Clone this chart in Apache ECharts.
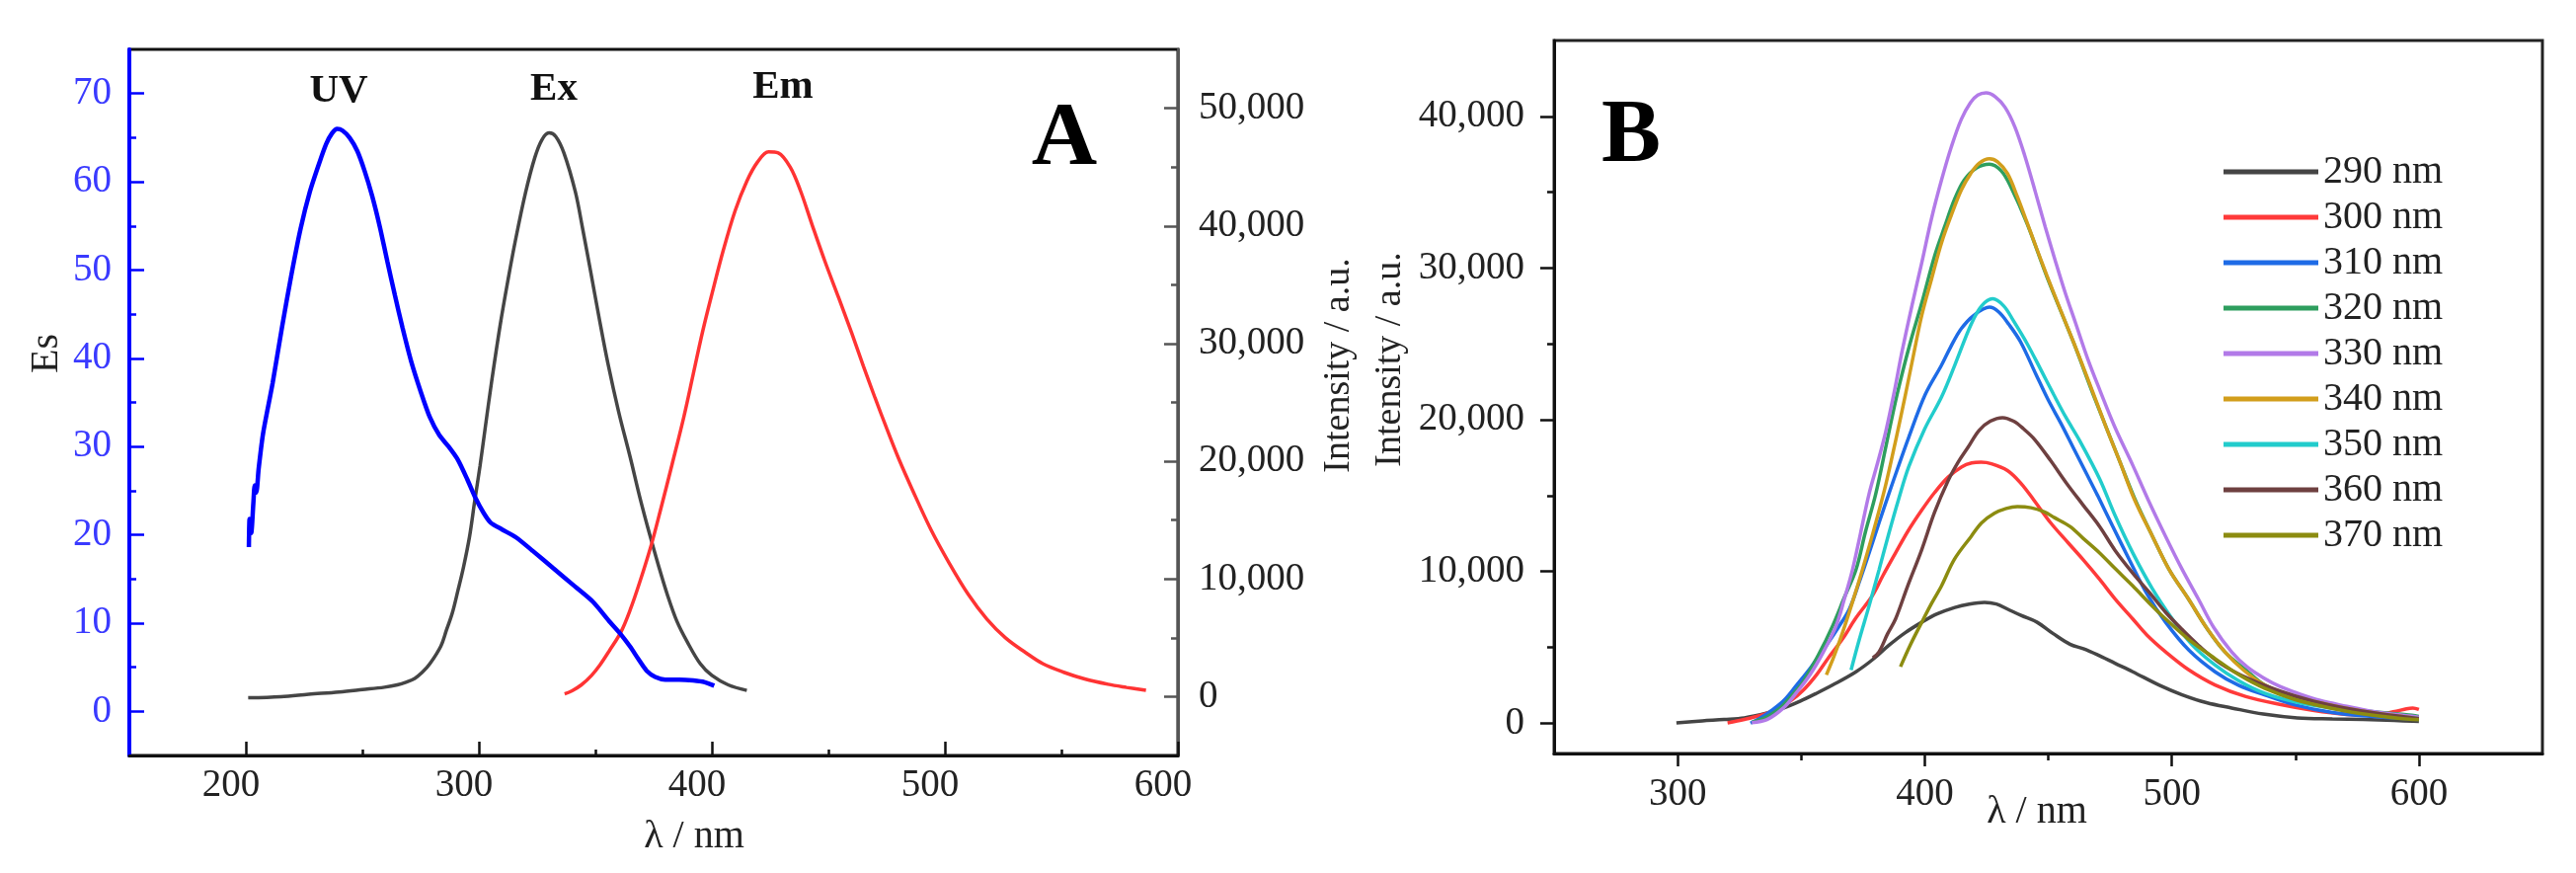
<!DOCTYPE html>
<html>
<head>
<meta charset="utf-8">
<script src="https://cdn.jsdelivr.net/npm/echarts@6/dist/echarts.min.js"></script>
<style>
html,body{margin:0;padding:0;background:#fff;}
#chart{width:2609px;height:884px;}
</style>
</head>
<body>
<div id="chart"></div>
<script>
// ---------- Panel A data ----------
const uvCurve = [[201.3,18.6],[201.6,21.8],[202.3,20.2],[203.2,23.5],[203.8,25.6],[204.5,24.8],[205.5,27.5],[207.4,31.5],[211.5,37.2],[215.5,43.5],[219.5,49.4],[223.5,54.7],[227.5,58.9],[231.6,62.2],[234.5,64.3],[237,65.5],[239.2,66],[241.5,65.8],[244.5,65.0],[247.8,63.5],[251,61.2],[254.2,58.4],[257.5,54.9],[260.7,51],[264,47.1],[267.2,43.5],[271,39.6],[275.2,36.1],[279,33.3],[283,31.3],[287,30],[291,28.5],[295,26.3],[298.5,24.2],[302,22.5],[305,21.4],[310,20.6],[316,19.7],[323,18.2],[332,16.2],[341,14.2],[349,12.4],[356.3,10.1],[361,8.7],[365,7.3],[368.5,5.9],[372,4.6],[375.7,3.9],[380,3.6],[386,3.6],[392,3.5],[397,3.3],[401,2.9]];
const exCurve = [[201,-100],[215,0],[227,200],[240,400],[250,600],[259.5,800],[265,1000],[269,1250],[272.5,1550],[275.7,2060],[279,2800],[283.7,4300],[286,5600],[288.6,7100],[291,9000],[293.4,11000],[296,13600],[298.2,16600],[300.5,19600],[302.7,22800],[305.5,26800],[309.2,31640],[312.5,35400],[315.6,38680],[320,42800],[324,45800],[327,47300],[330.1,47900],[333,47600],[336.5,46200],[341.4,42900],[344.5,39800],[347.9,36200],[351.5,32300],[355.4,28300],[360,24200],[365,20300],[369,17000],[373,14000],[377,11200],[381,8600],[385,6400],[389.3,4700],[395,2800],[400,1800],[407,1000],[415,530]];
const emCurve = [[336.8,240],[340,500],[344,1000],[348.3,1790],[352,2700],[356,3900],[361,5500],[365,7400],[369,9700],[374,12900],[378,15900],[383,19800],[388,23800],[392,27400],[396,31000],[400,34200],[405,38000],[410,41300],[415,43800],[419.5,45400],[424.3,46300],[428.5,46200],[433.6,45000],[438,43000],[443,40100],[448.5,37000],[454.4,33900],[460,30900],[465,28100],[470,25400],[475,22800],[480,20300],[486,17600],[494,14200],[502,11300],[510,8700],[518,6600],[526,5000],[534.6,3750],[542,2800],[551,2070],[560,1500],[570,1050],[578,780],[586.3,530]];

// ---------- Panel B data (excitation wavelength series) ----------
const exc290 = [[299.5,20],[310,150],[318.8,240],[327,350],[336.2,670],[343,1000],[349.5,1440],[356,1950],[362.8,2520],[372.2,3390],[379,4200],[385.5,5130],[392,5950],[398.8,6650],[405,7200],[412.2,7630],[418,7850],[424.2,7960],[429,7850],[433.5,7520],[439,7100],[445.5,6650],[452,5900],[458.8,5200],[464.2,4910],[470,4500],[477,3950],[484.2,3390],[495,2500],[504.2,1870],[514,1350],[524.2,1000],[537,600],[550.8,350],[565,280],[577.5,240],[590,180],[597.5,130],[600,120]];
const exc300 = [[320.2,20],[327,250],[334.8,570],[340,950],[345.5,1440],[351,2200],[356.2,3180],[361,4300],[366.8,5560],[372,6900],[378.8,8400],[383,9700],[388.2,11220],[393,12600],[398.8,14040],[404,15200],[409.5,16220],[415,16900],[419,17150],[422.8,17200],[427,17100],[433.5,16650],[439,15800],[444.2,14700],[451,13200],[458,11900],[464,10800],[470.8,9480],[477,8200],[484.2,6870],[490,5800],[497.5,4700],[507,3500],[517.5,2520],[530,1750],[544.2,1220],[557,850],[570.8,570],[580,520],[590.8,780],[595,950],[597.5,1000],[600,900]];
const exc310 = [[329.5,0],[333,300],[337.5,780],[343,1500],[348.2,2520],[354,3700],[360.2,5130],[365,6300],[369.5,7520],[373.5,9300],[377.5,11220],[381.5,13200],[385.5,15130],[389.5,17000],[393.5,18830],[400.2,21660],[406.8,23600],[410.5,24800],[414.8,26010],[420,26900],[426.2,27420],[430,27100],[434,26300],[438.8,25130],[445,23000],[450,21300],[455,19800],[460,18200],[465,16600],[470,15000],[476,13000],[482.8,10780],[490,8500],[497.5,6650],[507,4800],[517.5,3390],[527,2500],[537.5,1870],[550,1200],[565,700],[580,450],[590,350],[600,250]];
const exc320 = [[330,50],[336,400],[341.5,1000],[346,1800],[350.8,2740],[357,4500],[362.8,6440],[367.5,8300],[372.2,10130],[376,12600],[380.2,15130],[384.5,18400],[388.8,21660],[394,25000],[398.8,27700],[404,30800],[408,32700],[412,34500],[416,35800],[421,36600],[426.2,36850],[431,36400],[435,35300],[441.5,32900],[449.5,29400],[460.2,25100],[468.2,21660],[478.8,17310],[485,14800],[492.2,12310],[499,10100],[506.8,8170],[514,6300],[521.5,4700],[530,3500],[537.5,2520],[548,1800],[557.5,1440],[570,1000],[585,700],[595,550],[600,450]];
const exc330 = [[330,30],[336.2,240],[342.8,1000],[348,2000],[353.5,3180],[359,4700],[364.2,6440],[367.5,8200],[370.8,10130],[374,12500],[377.5,15130],[381,17200],[384.2,19200],[387.5,21700],[390.8,24480],[394.8,27500],[398.8,30350],[402.8,33300],[406.8,35800],[410.8,38000],[414.8,39800],[418.5,40900],[421.5,41400],[424.8,41550],[428.5,41300],[432.5,40600],[436.5,39300],[440.5,37400],[444.8,35000],[448.8,32700],[452.8,30500],[456.8,28400],[461,26400],[466,24000],[471,21900],[477,19500],[484.2,17000],[490.5,14700],[497.5,12310],[504,10200],[510.8,8170],[517,6300],[524.2,4700],[530.5,3700],[537.5,2950],[544,2400],[550.8,1980],[560,1500],[570.8,1110],[580,800],[590.8,570],[600,400]];
const exc340 = [[360.2,3180],[363.5,4500],[366.8,6000],[370.8,8000],[374.8,10130],[379.5,12800],[384.2,15700],[388.2,18600],[392.2,21660],[395.5,24300],[398.8,26880],[402.8,29300],[406.8,31660],[410.8,33500],[414.8,35140],[418.5,36200],[422,36900],[426.2,37200],[429.5,37000],[433.5,36230],[437.5,34700],[441.5,32960],[445.5,31200],[449.5,29480],[454.8,27300],[460.2,25130],[466,22700],[473.5,19480],[478.8,17310],[485,14700],[492.2,12310],[499,10100],[506.8,8170],[514,6300],[521.5,4700],[529,3500],[537.5,2520],[547,1900],[557.5,1440],[570,1000],[585,600],[600,300]];
const exc350 = [[370.2,3500],[373.5,5500],[377.5,7740],[381.5,10100],[385.5,12520],[389.5,14800],[393.5,16880],[400,19400],[406.8,21500],[412.2,23610],[418.8,26300],[423,27500],[427.5,27970],[432,27500],[436,26500],[441.5,25000],[447,23300],[452.2,21660],[457,20200],[462.8,18600],[470.8,16100],[477,13700],[484.2,11220],[492,8900],[500.2,6870],[508,5200],[517.5,3830],[527,2800],[537.5,1980],[550,1400],[564.2,1000],[580,650],[590,450],[600,300]];
const exc360 = [[379,4300],[381.5,4700],[385,5900],[388.2,6870],[393,9000],[398.8,11440],[404,13900],[409.5,16000],[413.5,17200],[417.5,18180],[422,19300],[426.5,19900],[431.5,20140],[436,19900],[440,19400],[444.5,18700],[451,17300],[457.5,15790],[464,14400],[470.8,12960],[477,11400],[484.2,9890],[491,8600],[497.5,7310],[504,6200],[510.8,5130],[520,3900],[530.8,2950],[544,2100],[557.5,1440],[570,1000],[585,600],[600,300]];
const exc370 = [[390.2,3720],[394,5100],[398.8,6650],[402.8,7900],[406.8,9050],[412,10800],[418.8,12310],[423,13200],[428.2,13830],[433,14150],[437.5,14270],[443,14200],[448.2,13940],[452.5,13550],[458.8,12960],[464,12200],[470.8,11220],[477,10200],[484.2,9050],[491,7900],[497.5,6870],[507,5500],[517.5,4260],[527,3200],[537.5,2300],[550,1550],[564.2,1000],[580,550],[597.5,240],[600,230]];

const seriesNamesB = ['290 nm','300 nm','310 nm','320 nm','330 nm','340 nm','350 nm','360 nm','370 nm'];
const seriesDataB = [exc290, exc300, exc310, exc320, exc330, exc340, exc350, exc360, exc370];
const seriesColorsB = ['#454545','#ff3a3a','#1e6be6','#2e9e5e','#b27ae8','#d29e1c','#22cccc','#6e4040','#8c8c10'];

// ---------- Tick values ----------
const ticksAx = [200,300,400,500,600];
const minorAx = [250,350,450,550];
const ticksAyL = [0,10,20,30,40,50,60,70];
const minorAyL = [5,15,25,35,45,55,65];
const ticksAyR = [0,10000,20000,30000,40000,50000];
const minorAyR = [5000,15000,25000,35000,45000];
const ticksBx = [300,400,500,600];
const minorBx = [350,450,550];
const ticksBy = [0,10000,20000,30000,40000];
const minorBy = [5000,15000,25000,35000];

const FONT = "'Liberation Serif','Times New Roman',serif";
const fmtComma = v => String(v).replace(/\B(?=(\d{3})+(?!\d))/g, ',');

const chart = echarts.init(document.getElementById('chart'));

function xMain(grid, min, max, ticks, inside, tickLen, labelMargin, padding) {
  return {
    type: 'value', gridIndex: grid, min: min, max: max, position: 'bottom',
    splitLine: {show: false},
    axisLine: {onZero: false, lineStyle: {color: '#111', width: 3}},
    axisTick: {inside: inside, length: tickLen, customValues: ticks, lineStyle: {color: '#111', width: 2.5}},
    axisLabel: {customValues: ticks, margin: labelMargin, fontSize: 39, fontFamily: FONT, color: '#222', padding: padding}
  };
}
function xMinor(grid, min, max, ticks, inside, tickLen) {
  return {
    type: 'value', gridIndex: grid, min: min, max: max, position: 'bottom',
    splitLine: {show: false},
    axisLine: {show: false, onZero: false},
    axisTick: {inside: inside, length: tickLen, customValues: ticks, lineStyle: {color: '#111', width: 2.5}},
    axisLabel: {show: false}
  };
}
function yMain(grid, pos, min, max, ticks, inside, tickLen, color, lineW, labelColor, labelMargin, fmt) {
  return {
    type: 'value', gridIndex: grid, min: min, max: max, position: pos,
    splitLine: {show: false},
    axisLine: {show: true, onZero: false, lineStyle: {color: color, width: lineW}},
    axisTick: {inside: inside, length: tickLen, customValues: ticks, lineStyle: {color: color, width: 2.5}},
    axisLabel: {customValues: ticks, margin: labelMargin, fontSize: 39, fontFamily: FONT, color: labelColor, formatter: fmt}
  };
}
function yMinor(grid, pos, min, max, ticks, inside, tickLen, color) {
  return {
    type: 'value', gridIndex: grid, min: min, max: max, position: pos,
    splitLine: {show: false},
    axisLine: {show: false, onZero: false},
    axisTick: {inside: inside, length: tickLen, customValues: ticks, lineStyle: {color: color, width: 2.5}},
    axisLabel: {show: false}
  };
}

const seriesB = seriesNamesB.map((n, i) => ({
  name: n, type: 'line', xAxisIndex: 2, yAxisIndex: 4,
  data: seriesDataB[i], symbol: 'none', showSymbol: false, smooth: 0.35,
  lineStyle: {width: 3.5, color: seriesColorsB[i]}, itemStyle: {color: seriesColorsB[i]},
  z: 3 + i
}));

const option = {
  animation: false,
  backgroundColor: '#fff',
  grid: [
    {left: 131, right: 2609 - 1193, top: 50, bottom: 884 - 765, show: true, borderColor: '#111', borderWidth: 3},
    {left: 1574, right: 2609 - 2575, top: 41, bottom: 884 - 763, show: true, borderColor: '#222', borderWidth: 3}
  ],
  xAxis: [
    xMain(0, 150, 600, ticksAx, true, 14, 11, [0, 30, 0, 0]),
    xMinor(0, 150, 600, minorAx, true, 6),
    xMain(1, 250, 650, ticksBx, false, 13, 22, 0),
    xMinor(1, 250, 650, minorBx, false, 7)
  ],
  yAxis: [
    yMain(0, 'left', -5, 75, ticksAyL, true, 15, '#0000ff', 4, '#3a3aff', 18, null),
    yMinor(0, 'left', -5, 75, minorAyL, true, 7, '#0000ff'),
    yMain(0, 'right', -5000, 55000, ticksAyR, true, 14, '#555', 3, '#222', 21, fmtComma),
    yMinor(0, 'right', -5000, 55000, minorAyR, true, 7, '#555'),
    yMain(1, 'left', -2000, 45000, ticksBy, false, 14, '#111', 3, '#222', 30, fmtComma),
    yMinor(1, 'left', -2000, 45000, minorBy, false, 7, '#111')
  ],
  legend: {
    data: seriesNamesB, orient: 'vertical', left: 2247, top: 149,
    icon: 'rect', itemWidth: 96, itemHeight: 5, itemGap: 6,
    textStyle: {fontSize: 40, lineHeight: 40, fontFamily: FONT, color: '#222'}
  },
  series: [
    {name: 'UV', type: 'line', xAxisIndex: 0, yAxisIndex: 0, data: uvCurve, symbol: 'none', smooth: 0.25, lineStyle: {width: 4.5, color: '#0000ff'}, itemStyle: {color: '#0000ff'}, z: 4},
    {name: 'Ex', type: 'line', xAxisIndex: 0, yAxisIndex: 2, data: exCurve, symbol: 'none', smooth: 0.35, lineStyle: {width: 3.5, color: '#454545'}, itemStyle: {color: '#454545'}, z: 3},
    {name: 'Em', type: 'line', xAxisIndex: 0, yAxisIndex: 2, data: emCurve, symbol: 'none', smooth: 0.35, lineStyle: {width: 3.5, color: '#ff3333'}, itemStyle: {color: '#ff3333'}, z: 3}
  ].concat(seriesB),
  graphic: [
    {type: 'text', x: 343, y: 92, style: {text: 'UV', font: "bold 41px 'Liberation Serif', serif", fill: '#111', align: 'center', verticalAlign: 'middle'}},
    {type: 'text', x: 561, y: 90, style: {text: 'Ex', font: "bold 41px 'Liberation Serif', serif", fill: '#111', align: 'center', verticalAlign: 'middle'}},
    {type: 'text', x: 793, y: 88, style: {text: 'Em', font: "bold 41px 'Liberation Serif', serif", fill: '#111', align: 'center', verticalAlign: 'middle'}},
    {type: 'text', x: 1078, y: 142, style: {text: 'A', font: "bold 92px 'Liberation Serif', serif", fill: '#000', align: 'center', verticalAlign: 'middle'}},
    {type: 'text', x: 1652, y: 140, style: {text: 'B', font: "bold 90px 'Liberation Serif', serif", fill: '#000', align: 'center', verticalAlign: 'middle'}},
    {type: 'text', x: 703, y: 847, style: {text: 'λ / nm', font: "40px 'Liberation Serif', serif", fill: '#222', align: 'center', verticalAlign: 'middle'}},
    {type: 'text', x: 2063, y: 822, style: {text: 'λ / nm', font: "40px 'Liberation Serif', serif", fill: '#222', align: 'center', verticalAlign: 'middle'}},
    {type: 'text', x: 47, y: 358, rotation: Math.PI / 2, style: {text: 'Es', font: "40px 'Liberation Serif', serif", fill: '#222', align: 'center', verticalAlign: 'middle'}},
    {type: 'text', x: 1356, y: 370, rotation: Math.PI / 2, style: {text: 'Intensity / a.u.', font: "38px 'Liberation Serif', serif", fill: '#222', align: 'center', verticalAlign: 'middle'}},
    {type: 'text', x: 1408, y: 364, rotation: Math.PI / 2, style: {text: 'Intensity / a.u.', font: "38px 'Liberation Serif', serif", fill: '#222', align: 'center', verticalAlign: 'middle'}}
  ]
};
chart.setOption(option);
</script>
</body>
</html>
